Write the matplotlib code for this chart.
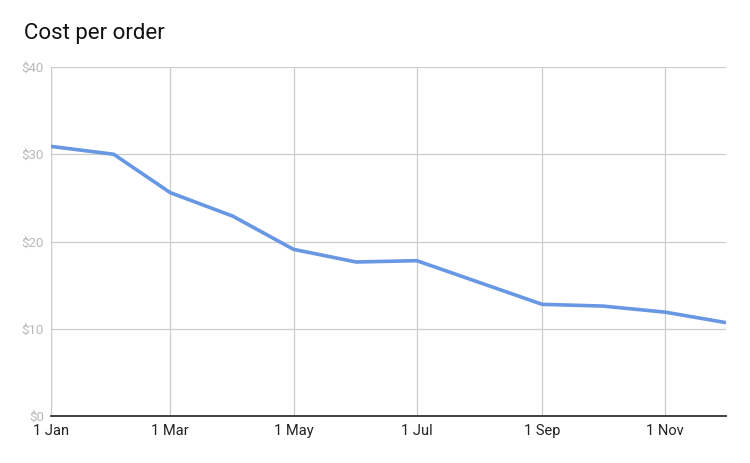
import numpy as np
import pandas as pd
import matplotlib
matplotlib.use("Agg")
import matplotlib.pyplot as plt
import matplotlib.dates as mdates
from matplotlib.ticker import FuncFormatter

plt.rcParams['font.family'] = ['Roboto', 'DejaVu Sans']

# monthly cost per order (first of each month)
months = pd.date_range("2017-01-01", "2017-12-01", freq="MS")
cost = [30.9, 30.0, 25.6, 22.9, 19.1, 17.65, 17.8, 15.3, 12.8, 12.6, 11.9, 10.7]

y_ticks = [0, 10, 20, 30, 40]
x_ticks = pd.date_range("2017-01-01", "2017-11-01", freq="2MS")

fig = plt.figure(figsize=(7.5, 4.63), dpi=100)
ax = fig.add_axes([51 / 750, 1 - 416 / 463, (726 - 51) / 750, (416 - 67) / 463])

ax.plot(months, cost, color='#6897e3', lw=2.6, solid_capstyle='butt', zorder=3)

ax.set_xlim(months[0], months[-1])
ax.set_ylim(0, 40)
ax.set_yticks(y_ticks)
ax.yaxis.set_major_formatter(FuncFormatter(lambda v, p: f"${v:.0f}"))
ax.set_xticks(x_ticks)
ax.xaxis.set_major_formatter(FuncFormatter(lambda v, p: f"1 {mdates.num2date(v).strftime('%b')}"))

ax.grid(True, color='#cccccc', lw=0.9)
ax.set_axisbelow(True)
for s in ['top', 'right', 'left']:
    ax.spines[s].set_visible(False)
ax.spines['bottom'].set_color('#333333')
ax.spines['bottom'].set_linewidth(1.3)
ax.spines['bottom'].set_zorder(4)
# left edge drawn as a grid-like line
ax.axvline(months[0], color='#cccccc', lw=0.9, zorder=1)

ax.tick_params(axis='y', length=0, pad=5, labelsize=9.5, labelcolor='#b8b8b8')
ax.tick_params(axis='x', length=0, pad=6, labelsize=10.5, labelcolor='#222222')

fig.text(24 / 750, 1 - 33 / 463, "Cost per order", fontsize=16, color='#111111',
         va='center', ha='left')

fig.savefig("out.png", dpi=100)
